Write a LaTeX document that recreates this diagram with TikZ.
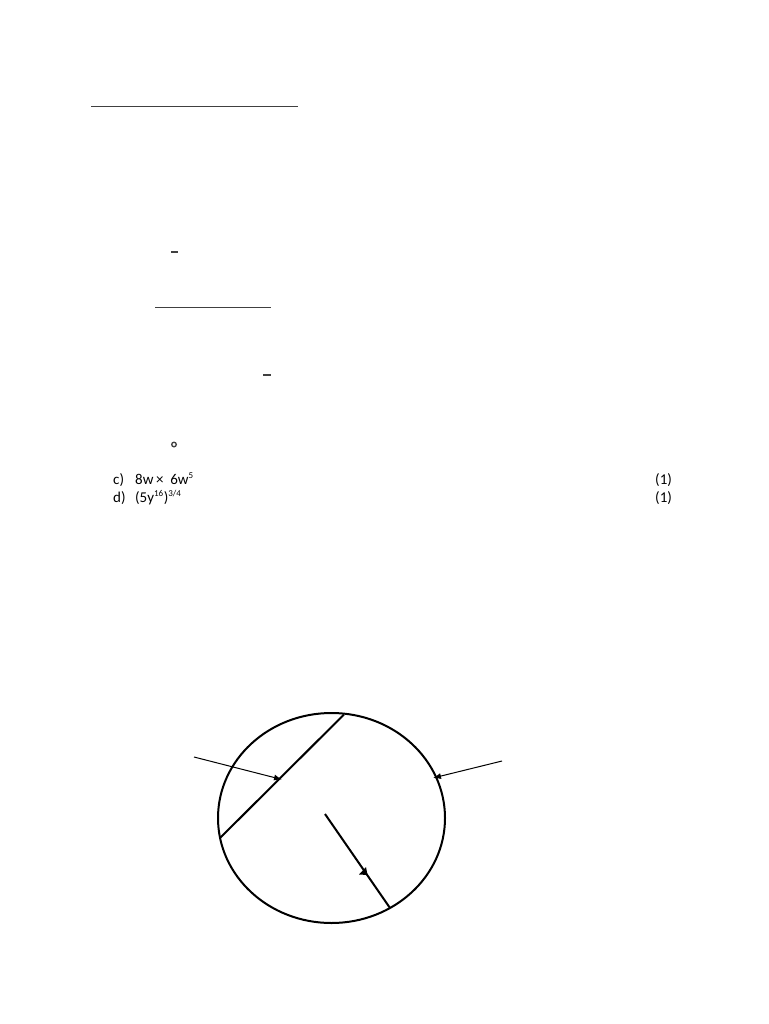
\documentclass[tikz,border=0pt]{standalone}
\usepackage{fontspec}
\setmainfont{Carlito}
\usetikzlibrary{arrows.meta}

\tikzset{
    rule/.style={draw=black!75, line width=1.8pt},
    thick line/.style={draw=black, line width=2pt},
    pointer/.style={draw=black, line width=1pt, -{Latex[length=8pt,width=6pt]}},
    qtext/.style={anchor=base west, inner sep=0pt, font=\fontsize{15}{18}\selectfont},
}
\newcommand{\sups}[1]{\textsuperscript{\fontsize{9}{9}\selectfont #1}}

\begin{document}
\begin{tikzpicture}[x=1pt, y=-1pt]
    \useasboundingbox[fill=white] (0,0) rectangle (768,1024);

    % rules and marks
    \coordinate (rule1a) at (91,106.5);
    \coordinate (rule1b) at (298,106.5);
    \draw[rule] (rule1a) -- (rule1b);
    \coordinate (dash1a) at (171,252);
    \coordinate (dash1b) at (178,252);
    \draw[rule] (dash1a) -- (dash1b);
    \coordinate (rule2a) at (155,307.5);
    \coordinate (rule2b) at (271,307.5);
    \draw[rule] (rule2a) -- (rule2b);
    \coordinate (dash2a) at (263,375);
    \coordinate (dash2b) at (271,375);
    \draw[rule] (dash2a) -- (dash2b);
    \coordinate (deg) at (174,444.5);
    \draw[black!75, line width=1.3pt] (deg) circle (2.3);

    % questions
    \node[qtext] (c_lbl) at (113,484) {c)};
    \node[qtext] (c_exp) at (135,484) {8w\,×\ \ 6w\sups{5}};
    \node[qtext] (c_mk)  at (655,484) {(1)};
    \node[qtext] (d_lbl) at (113,502) {d)};
    \node[qtext] (d_exp) at (135,502) {(5y\sups{16})\sups{3/4}};
    \node[qtext] (d_mk)  at (655,502) {(1)};

    % circle
    \coordinate (centre) at (331.5,818);
    \draw[thick line] (centre) ellipse (113.5 and 105);
    \coordinate (chordA) at (220,838);
    \coordinate (chordB) at (344,714.5);
    \draw[thick line] (chordA) -- (chordB);
    \coordinate (radA) at (325,814);
    \coordinate (radB) at (390,908);
    \draw[thick line] (radA) -- (radB);
    \fill (359,874.5) -- (366,867) -- (367.5,875) -- cycle;

    % pointers
    \coordinate (ptrL) at (194,757);
    \coordinate (ptrLend) at (282,779.5);
    \draw[pointer] (ptrL) -- (ptrLend);
    \coordinate (ptrR) at (502,761);
    \coordinate (ptrRend) at (433,778);
    \draw[pointer] (ptrR) -- (ptrRend);
\end{tikzpicture}
\end{document}
